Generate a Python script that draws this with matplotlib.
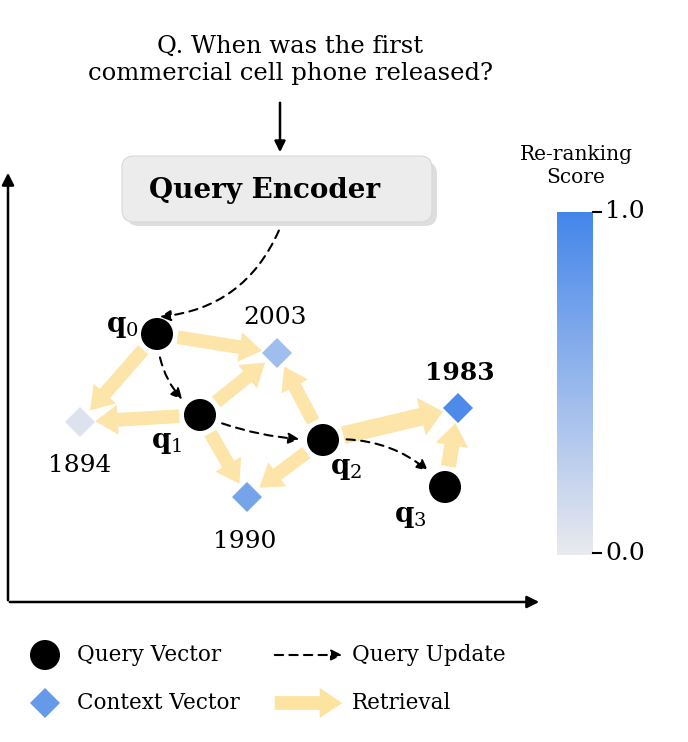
import matplotlib
matplotlib.use("Agg")
import matplotlib.pyplot as plt
import numpy as np
from matplotlib.patches import FancyArrowPatch, FancyBboxPatch, Circle, RegularPolygon

plt.rcParams["font.family"] = ["DejaVu Serif"]
plt.rcParams["mathtext.fontset"] = "dejavuserif"

# layout in pixel space (y downwards)
query_names = ["q0", "q1", "q2", "q3"]
query_xy = [(157, 334), (200, 415), (323, 440), (445, 487)]
query_label_xy = [(122, 327), (167, 443), (346, 468), (410, 517)]

context_years = ["2003", "1894", "1990", "1983"]
context_xy = [(277, 353), (80, 422), (247, 497), (458, 408)]
context_score = [0.45, 0.08, 0.7, 0.95]
context_label_xy = [(275, 318), (80, 465), (245, 542), (460, 373)]

# (query index, context index, width)
retrievals = [(0, 0, 1.0), (0, 1, 1.0), (1, 1, 1.0), (1, 0, 1.0), (1, 2, 1.0),
              (2, 2, 1.0), (2, 0, 1.0), (2, 3, 1.3), (3, 3, 1.1)]

c_hi = np.array([0x44, 0x86, 0xea]) / 255
c_lo = np.array([0xea, 0xea, 0xef]) / 255


def score_color(s):
    return tuple(c_lo + (c_hi - c_lo) * s)


fig = plt.figure(figsize=(6.88, 7.42), dpi=100)
ax = fig.add_axes([0, 0, 1, 1])
ax.set_xlim(0, 688)
ax.set_ylim(742, 0)
ax.axis("off")

ax.text(290, 60, "Q. When was the first\ncommercial cell phone released?",
        ha="center", va="center", fontsize=17.5, linespacing=1.2)
ax.add_patch(FancyArrowPatch((280, 100), (280, 155), arrowstyle="-|>", mutation_scale=16,
                             color="black", lw=1.8))

# encoder box with shadow
ax.add_patch(FancyBboxPatch((127, 162), 310, 64, boxstyle="round,pad=0,rounding_size=12",
                            fc="#c8c8c8", ec="none", alpha=0.6))
ax.add_patch(FancyBboxPatch((122, 156), 310, 66, boxstyle="round,pad=0,rounding_size=12",
                            fc="#ececec", ec="#d8d8d8", lw=0.8))
ax.text(265, 190, "Query Encoder", ha="center", va="center", fontsize=20, fontweight="bold")

ax.add_patch(FancyArrowPatch((280, 228), (157, 317), connectionstyle="arc3,rad=-0.3",
                             arrowstyle="-|>", mutation_scale=16, color="black", lw=1.5,
                             linestyle=(0, (4, 3))))

# axes
ax.add_patch(FancyArrowPatch((8, 603), (8, 170), arrowstyle="-|>", mutation_scale=18, color="black", lw=1.8))
ax.add_patch(FancyArrowPatch((7, 602), (542, 602), arrowstyle="-|>", mutation_scale=18, color="black", lw=1.8))

# retrieval arrows
for qi, ci, w in retrievals:
    ax.add_patch(FancyArrowPatch(query_xy[qi], context_xy[ci], shrinkA=15, shrinkB=11,
                                 arrowstyle=f"simple,head_width={1.2*w},head_length=0.9,tail_width={0.55*w}",
                                 mutation_scale=18, fc="#fde3a0", ec="none", alpha=0.9, zorder=2))

# query updates
for a, b, rad in [(0, 1, 0.25), (1, 2, 0.1), (2, 3, -0.25)]:
    ax.add_patch(FancyArrowPatch(query_xy[a], query_xy[b], shrinkA=17, shrinkB=17,
                                 connectionstyle=f"arc3,rad={rad}", arrowstyle="-|>",
                                 mutation_scale=16, color="black", lw=1.5,
                                 linestyle=(0, (4, 3)), zorder=3))

for (x, y), (lx, ly), name in zip(query_xy, query_label_xy, query_names):
    ax.add_patch(Circle((x, y), 16, fc="black", zorder=4))
    ax.text(lx, ly, rf"$\mathbf{{q}}_{{{name[1]}}}$", ha="center", va="center", fontsize=20)

for (x, y), (lx, ly), yr, s in zip(context_xy, context_label_xy, context_years, context_score):
    ax.add_patch(RegularPolygon((x, y), 4, radius=15, orientation=0, fc=score_color(s), ec="none", zorder=4))
    ax.text(lx, ly, yr, ha="center", va="center", fontsize=18,
            fontweight="bold" if yr == "1983" else "normal")

# colorbar
grad = np.linspace(1, 0, 200)[:, None]
img = c_lo + (c_hi - c_lo) * grad[..., None]
ax.imshow(img, extent=(557, 593, 555, 212), aspect="auto", zorder=1)
ax.plot([593, 601], [212, 212], color="black", lw=1.5)
ax.plot([593, 601], [553, 553], color="black", lw=1.5)
ax.text(605, 212, "1.0", va="center", fontsize=18)
ax.text(605, 553, "0.0", va="center", fontsize=18)
ax.text(576, 166, "Re-ranking\nScore", ha="center", va="center", fontsize=14.5, linespacing=1.3)

# legend
ax.add_patch(Circle((45, 655), 15, fc="black"))
ax.text(77, 655, "Query Vector", va="center", fontsize=15.5)
ax.add_patch(RegularPolygon((45, 703), 4, radius=15, fc=score_color(0.8), ec="none"))
ax.text(77, 703, "Context Vector", va="center", fontsize=15.5)
ax.add_patch(FancyArrowPatch((272, 655), (345, 655), arrowstyle="-|>", mutation_scale=16,
                             color="black", lw=1.5, linestyle=(0, (4, 3))))
ax.text(352, 655, "Query Update", va="center", fontsize=15.5)
ax.add_patch(FancyArrowPatch((272, 703), (345, 703),
                             arrowstyle="simple,head_width=1.2,head_length=0.9,tail_width=0.55",
                             mutation_scale=18, fc="#fde3a0", ec="none"))
ax.text(352, 703, "Retrieval", va="center", fontsize=15.5)

fig.savefig("out.png", dpi=100)
